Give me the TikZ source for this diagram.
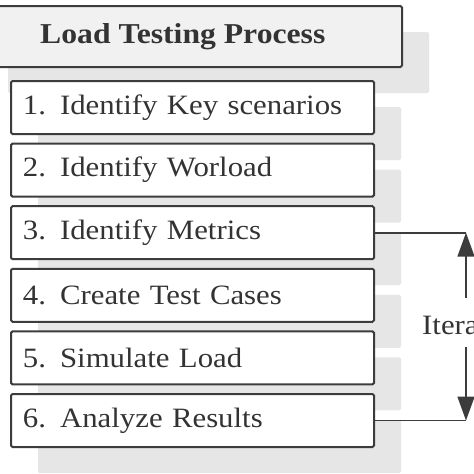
\documentclass[tikz,border=0pt]{standalone}
\usepackage{fontspec}
\setmainfont{Liberation Serif}[FakeStretch=1.1]
\usetikzlibrary{shadows,arrows.meta}
\definecolor{shadowgray}{HTML}{E6E6E6}
\definecolor{edgegray}{HTML}{3C3C3C}
\definecolor{textgray}{HTML}{333333}
\definecolor{titlefill}{HTML}{F1F1F1}
\tikzset{
  boxshadow/.style={general shadow={shadow xshift=27pt, shadow yshift=-26pt, fill=shadowgray}},
  titlebox/.style={draw=edgegray, line width=2pt, fill=titlefill, rounded corners=1.5pt,
    minimum width=421pt, minimum height=61pt, anchor=north west, inner sep=0pt, boxshadow},
  stepbox/.style={draw=edgegray, line width=2pt, fill=white, rounded corners=1.5pt,
    minimum width=363pt, minimum height=53pt, anchor=north west, inner xsep=12pt, inner ysep=0pt,
    text width=339pt, align=left, text=textgray, boxshadow,
    font=\fontsize{28}{30}\selectfont},
  steptext/.style={text=textgray, font=\fontsize{28}{30}\selectfont, inner sep=0pt},
  conn/.style={draw=edgegray, line width=1.6pt},
  arr/.style={conn, -{Triangle[length=24pt,width=17pt]}},
}
\begin{document}
\begin{tikzpicture}[x=1pt,y=-1pt]
\fill[white] (0,0) rectangle (474,474);
\useasboundingbox (0,0) rectangle (474,474);
\clip (0,0) rectangle (474,474);
\node[titlebox] (title) at (-20,5) {};
\node[steptext, anchor=west, font=\fontsize{28.8}{30}\selectfont\bfseries] (titletext) at (40,37) {Load Testing Process};
\node[stepbox] (s1) at (10,80) {1. Identify Key scenarios};
\node[stepbox] (s2) at (10,142.6) {2. Identify Worload};
\node[stepbox] (s3) at (10,205.2) {3. Identify Metrics};
\node[stepbox] (s4) at (10,267.8) {4. Create Test Cases};
\node[stepbox] (s5) at (10,330.4) {5. Simulate Load};
\node[stepbox] (s6) at (10,393) {6. Analyze Results};
\node[steptext, anchor=west] (it) at (422,325) {Iteration};
\coordinate (up) at (466,298);
\coordinate (dn) at (466,347);
\draw[conn] (s3.east) -- (s3.east -| up);
\draw[arr] (up) -- (up |- s3.east);
\draw[conn] (s6.east) -- (s6.east -| dn);
\draw[arr] (dn) -- (dn |- s6.east);
\end{tikzpicture}
\end{document}
